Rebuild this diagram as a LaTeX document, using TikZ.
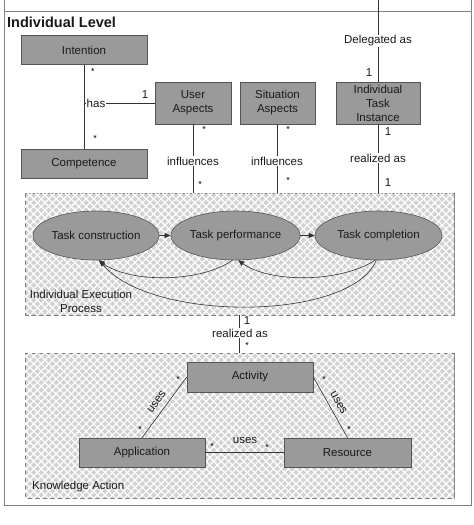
\documentclass[tikz,border=0pt]{standalone}
\usepackage{fontspec}
\setmainfont{Liberation Sans}
\usetikzlibrary{arrows.meta,patterns.meta,shapes.geometric}
\definecolor{boxfill}{HTML}{9A9A9A}
\definecolor{boxline}{HTML}{555555}
\definecolor{patfill}{HTML}{D2D2D2}
\definecolor{edgecol}{HTML}{333333}
\definecolor{framecol}{HTML}{808080}
\definecolor{txt}{HTML}{1A1A1A}
\tikzset{
  cls/.style={draw=boxline, fill=boxfill, inner sep=0pt, align=center, text=txt, line width=0.6pt},
  stateell/.style={ellipse, draw=boxline, fill=boxfill, inner sep=0pt, text=txt, line width=0.6pt},
  patbox/.style={draw=framecol, fill=patfill, inner sep=0pt, line width=0.6pt,
    postaction={pattern={Lines[angle=45,distance=5.3pt,line width=1.2pt]}, pattern color=white},
    postaction={pattern={Lines[angle=-45,distance=5.3pt,line width=1.2pt]}, pattern color=white}},
  conn/.style={draw=edgecol, line width=0.6pt},
  arr/.style={conn, -{Triangle[length=6pt,width=5pt]}, edgecol},
  lbl/.style={fill=white, inner sep=1pt, text=txt},
  mult/.style={inner sep=0pt, text=txt},
  star/.style={inner sep=0pt, text=black, font=\fontsize{9}{9}\selectfont},
}
\begin{document}
\begin{tikzpicture}[x=1pt, y=-1pt, font=\fontsize{11.5pt}{14pt}\selectfont]
\useasboundingbox (0,0) rectangle (474,525);
\fill[white] (0,0) rectangle (474,525);
% outer frames
\draw[framecol, line width=0.7pt] (4,11) rectangle (471,505);
\draw[framecol, line width=0.7pt] (4,0) -- (4,11);
\draw[framecol, line width=0.7pt] (471,0) -- (471,11);
\node[anchor=west, inner sep=0pt, text=txt, font=\fontsize{14.5pt}{16pt}\selectfont\bfseries] (title) at (7,22) {Individual Level};

% upper classes
\node[cls, minimum width=126pt, minimum height=29pt] (int) at (84,50) {Intention};
\node[cls, minimum width=126pt, minimum height=29pt] (comp) at (84,163.5) {Competence};
\node[cls, minimum width=76pt, minimum height=42pt] (ua) at (193,103) {User\\Aspects};
\node[cls, minimum width=75pt, minimum height=42pt] (sa) at (277.5,103) {Situation\\Aspects};
\node[cls, minimum width=84pt, minimum height=42pt] (iti) at (378,103) {Individual\\Task\\Instance};

% process box
\node[patbox, minimum width=429pt, minimum height=122pt] (proc) at (239.5,254) {};
\node[stateell, minimum width=126pt, minimum height=49pt] (tc) at (96,235.5) {Task construction};
\node[stateell, minimum width=127pt, minimum height=49pt] (tp) at (235.5,235.5) {Task performance};
\node[stateell, minimum width=127pt, minimum height=49pt] (tco) at (378.5,235.5) {Task completion};
\node[inner sep=0pt, align=center, text=txt] (proclbl) at (81,301) {Individual Execution\\Process};

% knowledge box
\node[patbox, minimum width=429pt, minimum height=145pt] (ka) at (239.5,425.5) {};
\node[cls, minimum width=126pt, minimum height=30pt] (act) at (250,377) {Activity};
\node[cls, minimum width=126pt, minimum height=29pt] (app) at (142,452.5) {Application};
\node[cls, minimum width=127pt, minimum height=29pt] (res) at (347.5,452.5) {Resource};
\node[anchor=west, inner sep=0pt, text=txt] (kalbl) at (32,487) {Knowledge Action};

% Intention - Competence - has - User Aspects
\draw[conn] (int.south) -- (comp.north);
\coordinate (hasj) at (84,103);
\draw[conn] (hasj) -- (ua.west);
\node[lbl] (has) at (96,103) {has};
\node[star] (s1) at (93,71) {*};
\node[star] (s2) at (95,138) {*};
\node[mult] (m1) at (145,95) {1};

% Delegated as
\coordinate (topend) at (378,0);
\draw[conn] (topend) -- (iti.north);
\node[lbl] (deleg) at (378,41) {Delegated as};
\node[mult] (m2) at (369,73) {1};

% realized as (ITI)
\draw[conn] (iti.south) -- (iti.south |- proc.north);
\node[lbl] (real1) at (378,158) {realized as};
\node[mult] (m3) at (388,132) {1};
\node[mult] (m4) at (388,183) {1};

% influences
\draw[conn] (ua.south) -- (ua.south |- proc.north);
\node[lbl] (inf1) at (193,161) {influences};
\node[star] (s3) at (204,129) {*};
\node[star] (s4) at (200,184) {*};
\draw[conn] (sa.south) -- (sa.south |- proc.north);
\node[lbl] (inf2) at (277,161) {influences};
\node[star] (s5) at (288,129) {*};
\node[star] (s6) at (288,180) {*};

% process arrows
\draw[arr] (tc.east) -- (tp.west);
\draw[arr] (tp.east) -- (tco.west);
\draw[arr] (tp.-97) .. controls (200,283) and (130,283) .. (tc.-84);
\draw[arr] (tco.-98) .. controls (340,283) and (270,283) .. (tp.-84);
\draw[arr] (tco.-95) .. controls (350,322) and (150,322) .. (tc.-82);

% realized as (process -> knowledge)
\draw[conn] (proc.south) -- (proc.south |- ka.north);
\node[lbl] (real2) at (240,333) {realized as};
\node[mult] (m5) at (247,321) {1};
\node[star] (s7) at (247,345) {*};

% uses
\draw[conn] (act.west) -- (app.north) node[midway, sloped, above=6pt, inner sep=0pt, text=txt] (u1) {uses};
\draw[conn] (act.east) -- (res.north) node[midway, sloped, above=6pt, inner sep=0pt, text=txt] (u2) {uses};
\draw[conn] (app.east) -- (res.west);
\node[inner sep=0pt, text=txt] (u3) at (245,440) {uses};
\node[star] (s8) at (178,379) {*};
\node[star] (s9) at (140,429) {*};
\node[star] (s10) at (324,379) {*};
\node[star] (s11) at (349,429) {*};
\node[star] (s12) at (212,446) {*};
\node[star] (s13) at (267,447) {*};
\end{tikzpicture}
\end{document}
